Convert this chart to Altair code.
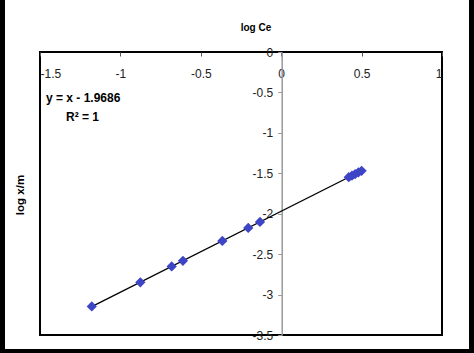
import altair as alt
import pandas as pd

log_ce = [-1.178, -0.876, -0.681, -0.611, -0.366, -0.205, -0.132, 0.42, 0.44, 0.46, 0.48, 0.50]
log_xm = [-3.147, -2.848, -2.652, -2.582, -2.336, -2.176, -2.102, -1.549, -1.529, -1.509, -1.489, -1.469]
x_ticks = [-1.5, -1, -0.5, 0, 0.5, 1]
y_ticks = [-3.5, -3, -2.5, -2, -1.5, -1, -0.5, 0]

df = pd.DataFrame({"x": log_ce, "y": log_xm})
FONT = "Liberation Sans"

xs = alt.Scale(domain=[-1.5, 1], nice=False, zero=False)
ys = alt.Scale(domain=[-3.5, 0], nice=False, zero=False)

xaxis = alt.Axis(orient="bottom", offset=-283, values=x_ticks, labelExpr="datum.value + ''",
                 domain=False, grid=False, tickColor="#555", tickSize=4, labelPadding=12,
                 labelFont=FONT, labelFontSize=12, labelColor="#222", title=None)
yaxis = alt.Axis(orient="left", offset=-241.7, values=y_ticks, labelExpr="datum.value + ''",
                 domain=True, domainColor="#999", domainWidth=1.5, grid=False, tickColor="#999",
                 tickSize=4, labelPadding=5, labelFont=FONT, labelFontSize=12, labelColor="#222",
                 title=None)

base = alt.Chart(df)

line = base.transform_regression("x", "y").mark_line(color="black", strokeWidth=1.3).encode(
    x=alt.X("x:Q", scale=xs, axis=xaxis),
    y=alt.Y("y:Q", scale=ys, axis=yaxis),
)

pts = base.mark_point(shape="diamond", filled=True, size=105, color="#3D45C6", opacity=1).encode(
    x=alt.X("x:Q", scale=xs),
    y=alt.Y("y:Q", scale=ys),
)

def label(text, x, y, size, angle=0, align="center"):
    return alt.Chart(pd.DataFrame({"t": [text]})).mark_text(
        font=FONT, fontWeight="bold", fontSize=size, angle=angle, align=align,
        baseline="middle", color="black"
    ).encode(text="t:N", x=alt.value(x), y=alt.value(y))

t_x = label("log Ce", 216, -24, 10)
t_y = label("log x/m", -19, 143, 11.5, angle=270)
eq = label("y = x - 1.9686", 6, 46, 12, align="left")
r2 = label("R² = 1", 26, 65, 12, align="left")

frame_l = alt.Chart(pd.DataFrame({"a": [0]})).mark_rule(color="black", strokeWidth=5).encode(
    x=alt.value(-37.5), y=alt.value(-52), y2=alt.value(301))
frame_r = alt.Chart(pd.DataFrame({"a": [0]})).mark_rule(color="black", strokeWidth=5).encode(
    x=alt.value(431.5), y=alt.value(-52), y2=alt.value(301))
frame_b = alt.Chart(pd.DataFrame({"a": [0]})).mark_rule(color="black", strokeWidth=4).encode(
    x=alt.value(-40), x2=alt.value(434), y=alt.value(299))

chart = alt.layer(line, pts, t_x, t_y, eq, r2, frame_l, frame_r, frame_b).properties(
    width=402, height=283,
    autosize=alt.AutoSizeParams(type="none"),
    padding={"left": 40, "top": 52, "right": 32, "bottom": 18},
    background="white",
).configure_view(stroke="black", strokeWidth=2)

chart.save("out.html", embed_options={"renderer": "svg", "actions": False})
